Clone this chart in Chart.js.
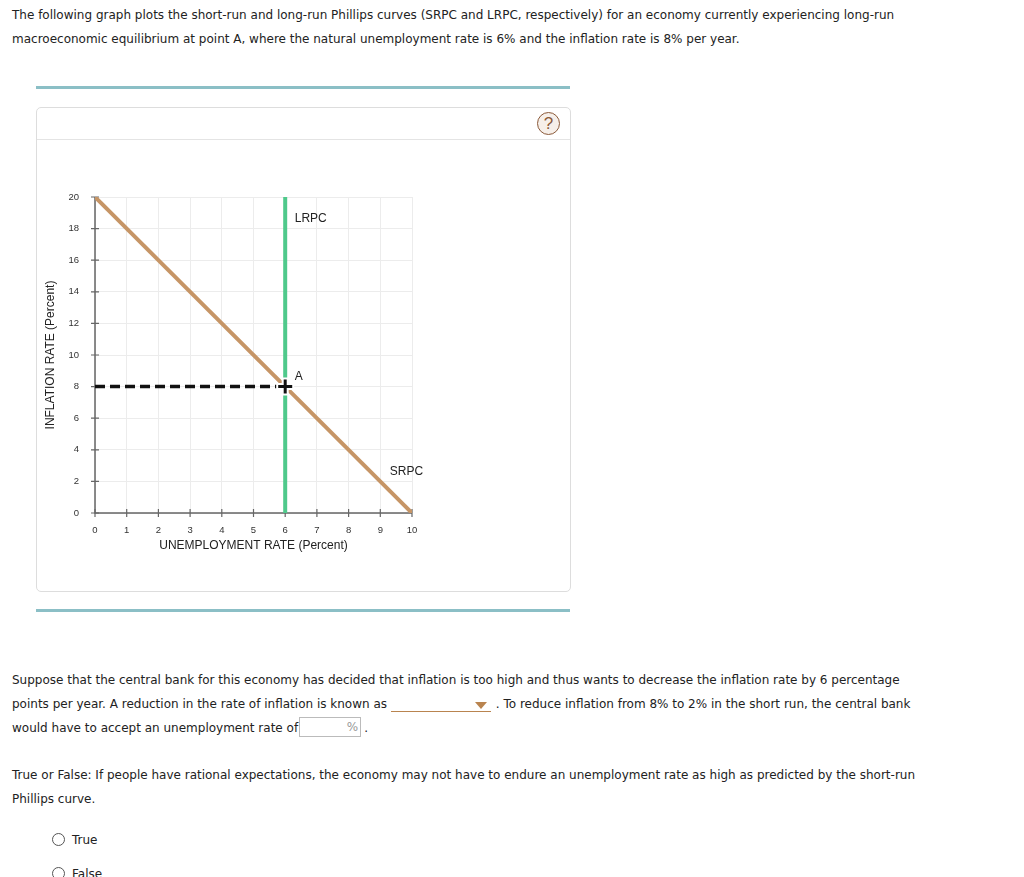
<!DOCTYPE html>
<html>
<head>
<meta charset="utf-8">
<script src="https://cdn.jsdelivr.net/npm/chart.js@4.4.1/dist/chart.umd.min.js"></script>
<style>
  html, body { margin:0; padding:0; background:#fff; }
  body { width:1024px; height:877px; position:relative; overflow:hidden; font-family:"DejaVu Sans", Verdana, sans-serif; font-size:12px; color:#222; }
  .txt { position:absolute; left:12px; line-height:24px; white-space:nowrap; }
  .teal { position:absolute; left:36px; width:534px; height:3px; background:#8bbfc6; }
  .panel { position:absolute; left:36px; top:107px; width:533px; height:483px; border:1px solid #ddd; border-radius:5px; }
  .hdr { position:absolute; left:0; top:0; width:533px; height:31px; border-bottom:1px solid #e4e4e4; }
  .help { position:absolute; left:537px; top:112px; width:21px; height:21px; border:1.5px solid #8b5a3a; border-radius:50%; background:#f6efe9; color:#8b5a3a; font-family:"Liberation Sans", Arial, sans-serif; font-size:17px; line-height:21px; text-align:center; }
  #wrap { position:absolute; left:37px; top:139px; width:532px; height:450px; }
  .dd { display:inline-block; width:100px; height:14px; border-bottom:1.5px solid #b9844f; vertical-align:-4px; position:relative; margin:0 5px 0 0; }
  .dd::after { content:""; position:absolute; right:4px; top:5px; border-left:6px solid transparent; border-right:6px solid transparent; border-top:7px solid #b9844f; }
  .box { display:inline-block; width:58px; height:18px; border:1px solid #bbb; vertical-align:middle; text-align:right; color:#999; line-height:18px; padding-right:2px; margin:-4px 3px 0 1px; box-sizing:content-box; }
  .radio { position:absolute; left:52px; width:11px; height:11px; border:1px solid #555; border-radius:50%; }
  .rlab { position:absolute; left:72px; line-height:16px; }
</style>
</head>
<body>
<div class="txt" style="top:3px;">The following graph plots the short-run and long-run Phillips curves (SRPC and LRPC, respectively) for an economy currently experiencing long-run<br>macroeconomic equilibrium at point A, where the natural unemployment rate is 6% and the inflation rate is 8% per year.</div>
<div class="teal" style="top:86px;"></div>
<div class="panel"><div class="hdr"></div></div>
<div class="help">?</div>
<div id="wrap"><canvas id="c"></canvas></div>
<div class="teal" style="top:609px;"></div>
<div class="txt" style="top:668px;">Suppose that the central bank for this economy has decided that inflation is too high and thus wants to decrease the inflation rate by 6 percentage<br>points per year. A reduction in the rate of inflation is known as <span class="dd"></span>. To reduce inflation from 8% to 2% in the short run, the central bank<br>would have to accept an unemployment rate of<span class="box">%</span>.</div>
<div class="txt" style="top:763px;">True or False: If people have rational expectations, the economy may not have to endure an unemployment rate as high as predicted by the short-run<br>Phillips curve.</div>
<div class="radio" style="top:833px;"></div><div class="rlab" style="top:832px;">True</div>
<div class="radio" style="top:867px;"></div><div class="rlab" style="top:866px;">False</div>

<script>
// ---- data ----
const srpcX = [0, 10];
const srpcY = [20, 0];
const lrpcX = [6, 6];
const lrpcY = [0, 20];
const dashX = [0, 6];
const dashY = [8, 8];
const pointA = { x: 6, y: 8 };
const xTicks = [0,1,2,3,4,5,6,7,8,9,10];
const yTicks = [0,2,4,6,8,10,12,14,16,18,20];
const curveLabels = [
  { text: 'LRPC', x: 6.3, y: 18.6 },
  { text: 'A', x: 6.3, y: 8.6 },
  { text: 'SRPC', x: 9.3, y: 2.6 }
];

const pts = (xs, ys) => xs.map((x, i) => ({ x, y: ys[i] }));

const overlay = {
  id: 'overlay',
  beforeDatasetsDraw(chart) {
    const { ctx, scales: { x, y } } = chart;
    ctx.save();
    ctx.strokeStyle = '#666';
    ctx.lineWidth = 1.5;
    const x0 = x.getPixelForValue(0), y0 = y.getPixelForValue(0);
    ctx.beginPath();
    ctx.moveTo(x0, y.getPixelForValue(20)); ctx.lineTo(x0, y0);
    ctx.lineTo(x.getPixelForValue(10), y0);
    ctx.stroke();
    ctx.lineWidth = 1.2;
    ctx.beginPath();
    xTicks.forEach(v => { const px = x.getPixelForValue(v); ctx.moveTo(px, y0 - 4); ctx.lineTo(px, y0 + 4); });
    yTicks.forEach(v => { const py = y.getPixelForValue(v); ctx.moveTo(x0 - 4, py); ctx.lineTo(x0 + 4, py); });
    ctx.stroke();
    ctx.restore();
  },
  afterDatasetsDraw(chart) {
    const { ctx, scales: { x, y } } = chart;
    ctx.save();
    ctx.fillStyle = '#222';
    ctx.font = '12px "Liberation Sans", Arial, sans-serif';
    ctx.textBaseline = 'middle';
    curveLabels.forEach(l => ctx.fillText(l.text, x.getPixelForValue(l.x), y.getPixelForValue(l.y)));
    ctx.restore();
  }
};

new Chart(document.getElementById('c'), {
  type: 'scatter',
  data: {
    datasets: [
      { label: 'A', data: [pointA], pointStyle: 'cross', pointRadius: 7, borderWidth: 3, borderColor: '#111', backgroundColor: '#111', showLine: false, order: 0 },
      { label: 'A outline', data: [pointA], pointStyle: 'cross', pointRadius: 9, borderWidth: 7, borderColor: '#fff', backgroundColor: '#fff', showLine: false, order: 1 },
      { label: 'dash', data: pts(dashX, dashY), showLine: true, borderColor: '#111', borderWidth: 3.5, borderDash: [10, 5], pointRadius: 0, order: 2 },
      { label: 'SRPC', data: pts(srpcX, srpcY), showLine: true, borderColor: '#c69566', borderWidth: 4, pointRadius: 0, order: 3 },
      { label: 'LRPC', data: pts(lrpcX, lrpcY), showLine: true, borderColor: '#4fc98b', borderWidth: 4, pointRadius: 0, order: 4 }
    ]
  },
  options: {
    responsive: true,
    maintainAspectRatio: false,
    animation: false,
    events: [],
    layout: { padding: { left: 0, top: 58, right: 157, bottom: 0 } },
    plugins: { legend: { display: false }, tooltip: { enabled: false } },
    scales: {
      x: {
        type: 'linear', min: 0, max: 10,
        afterFit: s => { s.height = 76; },
        afterBuildTicks: s => { s.ticks = xTicks.map(v => ({ value: v })); },
        border: { display: false },
        grid: { color: '#ececec', lineWidth: 1, drawTicks: false },
        ticks: { padding: 12, color: '#333', font: { family: '"Liberation Sans", Arial, sans-serif', size: 9.5 }, maxRotation: 0 },
        title: { display: true, text: 'UNEMPLOYMENT RATE (Percent)', color: '#222', font: { family: '"Liberation Sans", Arial, sans-serif', size: 12 }, padding: { top: 0, bottom: 36 } }
      },
      y: {
        type: 'linear', min: 0, max: 20,
        afterFit: s => { s.width = 58; },
        afterBuildTicks: s => { s.ticks = yTicks.map(v => ({ value: v })); },
        border: { display: false },
        grid: { color: '#ececec', lineWidth: 1, drawTicks: false },
        ticks: { padding: 16, color: '#333', font: { family: '"Liberation Sans", Arial, sans-serif', size: 9.5 } },
        title: { display: true, text: 'INFLATION RATE (Percent)', color: '#222', font: { family: '"Liberation Sans", Arial, sans-serif', size: 12 }, padding: { top: 6, bottom: 0 } }
      }
    }
  },
  plugins: [overlay]
});
</script>
</body>
</html>
